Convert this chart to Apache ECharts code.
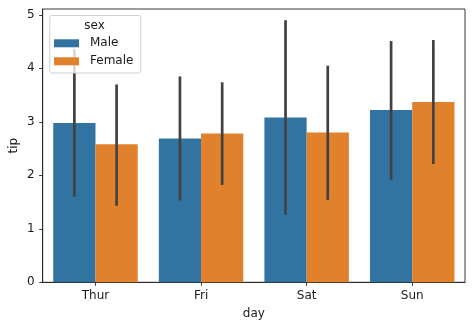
<!DOCTYPE html>
<html><head><meta charset="utf-8">
<script src="https://cdn.jsdelivr.net/npm/echarts@6/dist/echarts.min.js"></script>
<style>html,body{margin:0;padding:0;background:#fff}#c{width:474px;height:329px}</style>
</head><body><div id="c"></div>
<script>
var days = ['Thur', 'Fri', 'Sat', 'Sun'];
var maleTip = [2.98, 2.69, 3.08, 3.22];
var femaleTip = [2.58, 2.78, 2.80, 3.37];
var maleLow = [1.60, 1.53, 1.26, 1.91];
var maleHigh = [4.36, 3.85, 4.90, 4.51];
var femaleLow = [1.43, 1.82, 1.54, 2.21];
var femaleHigh = [3.70, 3.74, 4.05, 4.53];
var yTicks = [0, 1, 2, 3, 4, 5];

var FONT = 'DejaVu Sans';
var FS = 12;
var TXT = '#1a1a1a';

function errSeries(low, high, sign) {
  return {
    type: 'custom',
    silent: true,
    z: 10,
    data: days.map(function (d, i) { return [i, low[i], high[i]]; }),
    encode: { x: 0, y: [1, 2] },
    renderItem: function (params, api) {
      var bw = api.size([1, 0])[0];
      var p1 = api.coord([api.value(0), api.value(1)]);
      var p2 = api.coord([api.value(0), api.value(2)]);
      var x = p1[0] + sign * bw * 0.2;
      return {
        type: 'line',
        shape: { x1: x, y1: p1[1], x2: x, y2: p2[1] },
        style: { stroke: '#424242', lineWidth: 2.7 }
      };
    }
  };
}

var chart = echarts.init(document.getElementById('c'), null, { renderer: 'canvas' });
chart.setOption({
  animation: false,
  textStyle: { fontFamily: FONT },
  grid: { left: 42.7, right: 9, top: 9, bottom: 46.7, show: true, borderColor: '#222', borderWidth: 0.9, containLabel: false, outerBoundsMode: 'none' },
  legend: {
    data: ['Male', 'Female'],
    orient: 'vertical',
    left: 54, top: 37.3,
    padding: 0,
    itemWidth: 25, itemHeight: 8,
    itemGap: 6,
    icon: 'rect',
    selectedMode: false,
    z: 60,
    textStyle: { fontFamily: FONT, fontSize: FS, color: TXT, lineHeight: 12, padding: [0, 0, 0, 6] }
  },
  graphic: [
    { type: 'rect', left: 49.3, top: 15, shape: { width: 91, height: 57.5, r: 2 },
      style: { fill: 'rgba(255,255,255,0.8)', stroke: '#d0d0d0', lineWidth: 1 }, z: 50 },
    { type: 'text', x: 94.5, y: 25.5, style: { text: 'sex', font: FS + 'px "DejaVu Sans"', fill: TXT, textAlign: 'center', textVerticalAlign: 'middle' }, z: 55 }
  ],
  xAxis: {
    type: 'category',
    data: days,
    name: 'day', nameLocation: 'middle', nameGap: 25.5, nameMoveOverlap: false,
    nameTextStyle: { fontFamily: FONT, fontSize: FS, color: TXT },
    axisLine: { show: true, lineStyle: { color: '#222', width: 0.9 } },
    axisTick: { show: true, alignWithLabel: true, length: 3.5, lineStyle: { color: '#222', width: 0.9 } },
    axisLabel: { fontFamily: FONT, fontSize: FS, color: TXT, margin: 7.5 },
    splitLine: { show: false }
  },
  yAxis: {
    type: 'value', min: 0, max: 5.11,
    name: 'tip', nameLocation: 'middle', nameGap: 23, nameMoveOverlap: false,
    nameTextStyle: { fontFamily: FONT, fontSize: FS, color: TXT },
    axisLine: { show: true, lineStyle: { color: '#222', width: 0.9 } },
    axisTick: { show: true, length: 3.5, customValues: yTicks, lineStyle: { color: '#222', width: 0.9 } },
    axisLabel: { fontFamily: FONT, fontSize: FS, color: TXT, margin: 8, customValues: yTicks },
    splitLine: { show: false }
  },
  series: [
    { name: 'Male', type: 'bar', data: maleTip, barWidth: '40%', barGap: '0%', itemStyle: { color: '#3274a1' } },
    { name: 'Female', type: 'bar', data: femaleTip, barWidth: '40%', barGap: '0%', itemStyle: { color: '#e1812c' } },
    errSeries(maleLow, maleHigh, -1),
    errSeries(femaleLow, femaleHigh, 1)
  ]
});
</script></body></html>
